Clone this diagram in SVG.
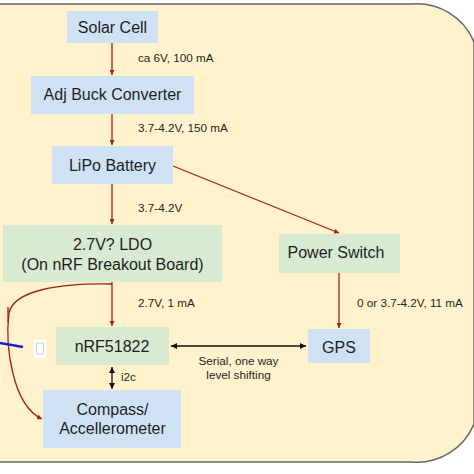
<svg xmlns="http://www.w3.org/2000/svg" width="474" height="474" viewBox="0 0 474 474">
<defs>
<marker id="ar" viewBox="0 0 10 10" refX="10" refY="5" markerWidth="5" markerHeight="5" orient="auto-start-reverse" markerUnits="userSpaceOnUse"><path d="M0,0 L10,5 L0,10 z" fill="#a0201a"/></marker>
<marker id="ak" viewBox="0 0 10 10" refX="10" refY="5" markerWidth="6" markerHeight="6" orient="auto-start-reverse" markerUnits="userSpaceOnUse"><path d="M0,0 L10,5 L0,10 z" fill="#111"/></marker>
<style>
.blue{fill:#cfe2f3}
.green{fill:#d9ead3}
.t{font-family:"Liberation Sans",Arial,sans-serif;font-size:16px;fill:#1f1f1f;text-anchor:middle}
.s{font-family:"Liberation Sans",Arial,sans-serif;font-size:11.7px;fill:#1f1f1f}
.r{stroke:#a0201a;stroke-width:1.3;fill:none}
.k{stroke:#111;stroke-width:1.3;fill:none}
</style>
</defs>
<rect width="474" height="474" fill="#ffffff"/>
<path d="M-10,4 L412,4 A62,62 0 0 1 474,42 L474,424 A62,62 0 0 1 412,462 L-10,462 Z" fill="#fff2cc" stroke="#666" stroke-width="1.5"/>
<g id="connectors">
<line class="r" x1="112" y1="43" x2="112" y2="75" marker-end="url(#ar)"/>
<line class="r" x1="112" y1="114" x2="112" y2="145" marker-end="url(#ar)"/>
<line class="r" x1="112" y1="184" x2="112" y2="224" marker-end="url(#ar)"/>
<line class="r" x1="173" y1="166" x2="339" y2="233" marker-end="url(#ar)"/>
<line class="r" x1="112" y1="282" x2="112" y2="326" marker-end="url(#ar)"/>
<line class="r" x1="339" y1="273" x2="339" y2="328" marker-end="url(#ar)"/>
<path class="r" d="M112,284 C60,283 14,290 9,313 C5,345 12,405 42,419" marker-end="url(#ar)"/>
<line class="r" x1="8" y1="307" x2="8" y2="322"/>
<line class="k" x1="171" y1="346" x2="306" y2="346" marker-start="url(#ak)" marker-end="url(#ak)"/>
<line class="k" x1="112" y1="367" x2="112" y2="389" marker-start="url(#ak)" marker-end="url(#ak)"/>
<line x1="0" y1="343" x2="23" y2="347" stroke="#1c1cd0" stroke-width="2.5"/>
<text class="s" x="138" y="62">ca 6V, 100 mA</text>
<text class="s" x="138" y="132">3.7-4.2V, 150 mA</text>
<text class="s" x="138" y="212">3.7-4.2V</text>
<text class="s" x="138" y="307">2.7V, 1 mA</text>
<text class="s" x="357" y="307">0 or 3.7-4.2V, 11 mA</text>
<text class="s" x="121" y="381">i2c</text>
<text class="s" x="238.5" y="365" text-anchor="middle">Serial, one way</text>
<text class="s" x="238.5" y="379" text-anchor="middle">level shifting</text>
</g>
<rect x="34" y="340" width="12" height="18" fill="#ffffff"/>
<rect x="36.5" y="343" width="7" height="11" fill="none" stroke="#c8d4e4" stroke-width="1"/>
<g id="solar"><rect class="blue" x="67" y="11" width="91" height="32"/><text class="t" x="112.5" y="33">Solar Cell</text></g>
<g id="buck"><rect class="blue" x="31" y="76" width="163" height="38"/><text class="t" x="112.5" y="100">Adj Buck Converter</text></g>
<g id="lipo"><rect class="blue" x="52" y="146" width="121" height="38"/><text class="t" x="112.5" y="171">LiPo Battery</text></g>
<g id="ldo"><rect class="green" x="3" y="225" width="219" height="57"/><text class="t" x="112.5" y="250">2.7V? LDO</text><text class="t" x="112.5" y="270">(On nRF Breakout Board)</text></g>
<g id="switch"><rect class="green" x="279" y="234" width="121" height="39"/><text class="t" x="336" y="258">Power Switch</text></g>
<g id="nrf"><rect class="green" x="56" y="327" width="113" height="38"/><text class="t" x="112" y="352">nRF51822</text></g>
<g id="gps"><rect class="blue" x="308" y="329" width="62" height="34"/><text class="t" x="339" y="353">GPS</text></g>
<g id="compass"><rect class="blue" x="43" y="390" width="138" height="58"/><text class="t" x="112.5" y="415">Compass/</text><text class="t" x="112.5" y="434">Accellerometer</text></g>
</svg>
